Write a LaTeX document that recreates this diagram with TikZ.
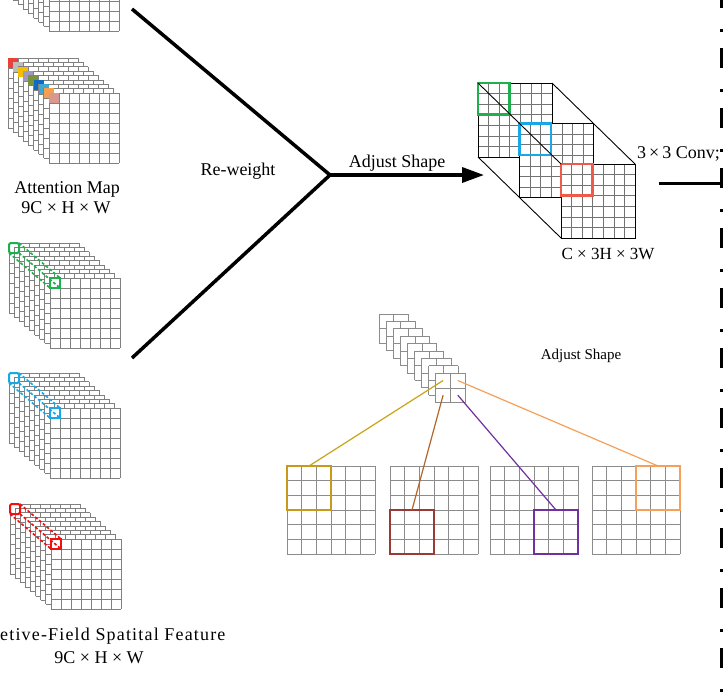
\documentclass[tikz,border=0pt]{standalone}
\usepackage{fontspec}
\setmainfont{Liberation Serif}
\newfontfamily\spacedfont[LetterSpace=6.5]{Liberation Serif}
\usetikzlibrary{arrows.meta}
\definecolor{amA}{HTML}{E8423A}
\definecolor{amB}{HTML}{BDBDBD}
\definecolor{amC}{HTML}{F2C000}
\definecolor{amD}{HTML}{A196C6}
\definecolor{amE}{HTML}{77933C}
\definecolor{amF}{HTML}{1169C4}
\definecolor{amG}{HTML}{3FA9D0}
\definecolor{amH}{HTML}{F4A050}
\definecolor{amI}{HTML}{D89890}
\definecolor{tgreen}{HTML}{1FAF4E}
\definecolor{tblue}{HTML}{19A8E6}
\definecolor{tred}{HTML}{F01010}
\definecolor{bred}{HTML}{F05A48}
\definecolor{gold}{HTML}{C99A1A}
\definecolor{goldline}{HTML}{C9A416}
\definecolor{brownbox}{HTML}{983A36}
\definecolor{brownline}{HTML}{B3652A}
\definecolor{purp}{HTML}{7030A0}
\definecolor{orng}{HTML}{F5A05A}
\newcommand{\cellgrid}[5][gl]{%
  \pgfmathsetmacro\cgx{#2}\pgfmathsetmacro\cgy{#3}\pgfmathsetmacro\cgs{#4*#5}%
  \fill[white] (\cgx,\cgy) rectangle ++(\cgs,\cgs);
  \foreach \k in {0,...,#4}{
    \draw[#1] ({\cgx+\k*#5},\cgy) -- ++(0,\cgs);
    \draw[#1] (\cgx,{\cgy+\k*#5}) -- ++(\cgs,0);
  }%
}
\newcommand{\tube}[3]{%
  \pgfmathsetmacro\tbx{#2+40.8}\pgfmathsetmacro\tby{#3+34.8}%
  \draw[#1,line width=1.6pt,dash pattern=on 3pt off 2pt] (#2+10,#3) -- (\tbx+10,\tby);
  \draw[#1,line width=1.6pt,dash pattern=on 3pt off 2pt] (#2,#3+10) -- (\tbx,\tby+10);
  \draw[#1,line width=1.6pt,dash pattern=on 3pt off 2pt] (#2+10,#3+10) -- (\tbx+10,\tby+10);
  \draw[#1,line width=2pt,rounded corners=1.5pt] (#2,#3) rectangle ++(10,10);
  \draw[#1,line width=2.4pt] (\tbx,\tby) rectangle ++(10,10);
}
\begin{document}
\begin{tikzpicture}[x=1pt,y=-1pt,
  gl/.style={draw=black!50,line width=0.5pt},
  bl/.style={draw=black!45,line width=0.7pt},
  kl/.style={draw=black!55,line width=0.55pt},
  thk/.style={line width=3.5pt,black},
  lbl/.style={font=\fontsize{18}{20}\selectfont,inner sep=0pt,anchor=base},
  boxline/.style={line width=2.8pt},
  link/.style={line width=1.2pt}]
\useasboundingbox (0,0) rectangle (723,697);
\clip (0,0) rectangle (723,697);
\fill[white] (0,0) rectangle (723,697);

% ---------- left stacks ----------
\foreach \i in {0,...,8}{\cellgrid{8+\i*5.1}{-74+\i*4.35}{7}{10}}
\foreach \i/\c in {0/amA,1/amB,2/amC,3/amD,4/amE,5/amF,6/amG,7/amH,8/amI}{
  \cellgrid{8+\i*5.1}{58+\i*4.35}{7}{10}
  \fill[\c] ({8+\i*5.1},{58+\i*4.35}) rectangle ++(10,10);
}
\foreach \i in {0,...,8}{\cellgrid{9+\i*5.1}{243+\i*4.35}{7}{10}}
\tube{tgreen}{9}{243}
\foreach \i in {0,...,8}{\cellgrid{9+\i*5.1}{373+\i*4.35}{7}{10}}
\tube{tblue}{9}{373}
\foreach \i in {0,...,8}{\cellgrid{10+\i*5.1}{504+\i*4.35}{7}{10}}
\tube{tred}{10}{504}

\node[lbl] (attn) at (67,193) {Attention Map};
\node[lbl] (attnsz) at (66,213) {9C × H × W};
\node[lbl,anchor=base west] (rfsf) at (0,640) {\spacedfont etive-Field Spatital Feature};
\node[lbl] (rfsfsz) at (99,663) {9C × H × W};

% ---------- connectors ----------
\coordinate (up) at (132,9);
\coordinate (lo) at (132,358);
\coordinate (jn) at (330,175);
\coordinate (tip) at (484,175);
\draw[thk] (up) -- (jn);
\draw[thk] (lo) -- (jn);
\draw[thk,-{Triangle[length=22pt,width=15pt]}] (jn) -- (tip);
\node[lbl] (rw) at (238,175) {Re-weight};
\node[lbl] (as1) at (397,167) {Adjust Shape};

% ---------- 3D block ----------
\cellgrid[kl]{478}{83}{7}{10.57}
\draw[black,line width=0.9pt] (478,83) rectangle ++(74,74);
\draw[tgreen,line width=2.5pt] (478,83) rectangle ++(31.7,31.7);
\cellgrid[kl]{519.5}{123.5}{7}{10.57}
\draw[black,line width=0.9pt] (519.5,123.5) rectangle ++(74,74);
\draw[tblue,line width=2.5pt] (519.5,123.5) rectangle ++(31.7,31.7);
\cellgrid[kl]{561}{164}{7}{10.57}
\draw[black,line width=0.9pt] (561,164) rectangle ++(74,74);
\draw[bred,line width=2.5pt] (561,164) rectangle ++(31.7,31.7);
\coordinate (aTL) at (478,83);
\coordinate (aTR) at (552,83);
\coordinate (aBL) at (478,157);
\coordinate (cTL) at (561,164);
\coordinate (cTR) at (635,164);
\coordinate (cBL) at (561,238);
\draw[black,line width=0.9pt] (aTL) -- (cTL);
\draw[black,line width=0.9pt] (aTR) -- (cTR);
\draw[black,line width=0.9pt] (aBL) -- (cBL);
\node[lbl,font=\fontsize{17}{19}\selectfont] (blksz) at (608,259) {C × 3H × 3W};

% ---------- output ----------
\node[lbl,anchor=base west] (conv) at (637,158) {3\,×\,3 Conv;};
\coordinate (oa) at (659,183);
\coordinate (ob) at (721.5,183);
\coordinate (rt) at (721.5,-12);
\coordinate (rb) at (721.5,710);
\draw[line width=3pt,dash pattern=on 20pt off 21pt on 3pt off 16pt] (rt) -- (rb);
\draw[line width=3pt] (oa) -- (ob);

% ---------- small stack ----------
\foreach \i in {0,...,8}{\cellgrid[bl]{379+\i*7.1}{314+\i*7.4}{2}{14.65}}
\node[lbl,font=\fontsize{15}{17}\selectfont] (as2) at (581,359) {Adjust Shape};
\coordinate (sTL) at (443.1,380.5);
\coordinate (sTR) at (457.8,380.5);
\coordinate (sBL) at (443.1,395.2);
\coordinate (sBR) at (457.8,395.2);

% ---------- bottom grids ----------
\cellgrid[bl]{287}{466}{6}{14.67}
\draw[gold,boxline] (287,466) rectangle ++(44,44);
\cellgrid[bl]{390}{466}{6}{14.67}
\draw[brownbox,boxline] (390,510) rectangle ++(44,44);
\cellgrid[bl]{490}{466}{6}{14.67}
\draw[purp,boxline] (534,510) rectangle ++(44,44);
\cellgrid[bl]{592}{466}{6}{14.67}
\draw[orng,boxline] (636,466) rectangle ++(44,44);
\coordinate (gY) at (309,466);
\coordinate (gB) at (412,510);
\coordinate (gP) at (556,510);
\coordinate (gO) at (658,466);
\draw[goldline,link] (sTL) -- (gY);
\draw[brownline,link] (sBL) -- (gB);
\draw[purp,link] (sBR) -- (gP);
\draw[orng,link] (sTR) -- (gO);
\end{tikzpicture}
\end{document}
